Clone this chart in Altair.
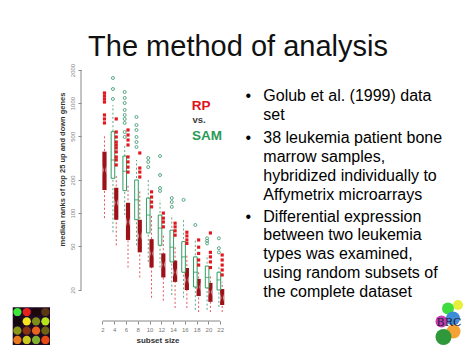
import altair as alt
import pandas as pd

# ---------------- data ----------------
rp_sizes = [2, 4, 6, 8, 10, 12, 14, 16, 18, 20, 22]
rp_low = [90, 51, 32, 26, 17, 16, 13.7, 13.7, 12.6, 12.6, 12.6]
rp_q1 = [162, 87, 57, 44, 32, 26, 23.7, 20, 17.6, 15.6, 14.6]
rp_med = [247, 124, 83, 62, 43, 34, 29, 24.7, 21.3, 19.2, 17]
rp_q3 = [362, 170, 124, 87, 58, 43, 37, 31.7, 25.2, 23.2, 20.4]
rp_high = [513, 222, 180, 162, 96, 63, 51, 41.6, 30.4, 27.4, 23.7]
rp_outliers = {
    2: [1236, 1161, 1090, 1023, 780, 718, 660],
    4: [718, 546, 492, 443, 416, 391, 360, 324, 304, 274],
    6: [570, 513, 462, 416, 324, 292, 262, 236],
    8: [352, 257, 236, 213],
    10: [156, 140, 126, 114],
    12: [100, 90, 83, 75],
    14: [81, 75, 69, 63],
    16: [67, 62, 57, 53],
    18: [57, 49, 43, 37.5, 33.7],
    20: [66, 44, 40, 36, 32],
    22: [41.6, 37.5, 33.7, 30.4, 27.4],
}

sam_sizes = [4, 6, 8, 10, 12, 14, 16, 18, 20, 22]
sam_low = [67, 96, 51, 36, 32, 18, 17, 13.2, 13.2, 14]
sam_q1 = [207, 160, 87, 66, 51, 36, 29, 21.3, 20.9, 20]
sam_med = [304, 240, 132, 96, 73, 49, 40, 29, 26, 24.7]
sam_q3 = [550, 330, 200, 137, 96, 70, 55, 40, 33, 29]
sam_high = [961, 416, 304, 200, 132, 96, 90, 57, 41.6, 33.7]
sam_outliers = {
    4: [1692, 1343, 1090],
    6: [1262, 1113, 1002, 866, 780, 718, 660, 546, 492],
    8: [748, 632, 570, 492, 443, 399],
    10: [317, 292, 262],
    12: [330, 222, 169, 159],
    14: [137, 126, 114],
    16: [132],
    18: [78],
    20: [59, 56, 53],
    22: [59, 48, 44],
}

x_ticks = [2, 4, 6, 8, 10, 12, 14, 16, 18, 20, 22]
y_ticks = [20, 50, 100, 200, 500, 1000, 2000]

title_text = "The method of analysis"
bullets = [
    ["Golub et al. (1999) data", "set"],
    ["38 leukemia patient bone", "marrow samples,", "hybridized individually to",
     "Affymetrix microarrays"],
    ["Differential expression", "between two leukemia", "types was examined,",
     "using random subsets of", "the complete dataset"],
]
grid_logo_colors = [
    ["#3fe63a", "#e6201c", "#1c0808", "#5a3814"],
    ["#140810", "#f2e41e", "#7e8c1a", "#b6e21e"],
    ["#8a9816", "#883212", "#e8641e", "#6c6214"],
    ["#e8781e", "#c8ca1e", "#80ae30", "#e84a14"],
]

# ---------------- tables ----------------
rp_df = pd.DataFrame({"size": rp_sizes, "low": rp_low, "q1": rp_q1,
                      "med": rp_med, "q3": rp_q3, "high": rp_high})
sam_df = pd.DataFrame({"size": sam_sizes, "low": sam_low, "q1": sam_q1,
                       "med": sam_med, "q3": sam_q3, "high": sam_high})
rp_out = pd.DataFrame([{"size": s, "v": v} for s, vs in rp_outliers.items() for v in vs])
sam_out = pd.DataFrame([{"size": s, "v": v} for s, vs in sam_outliers.items() for v in vs])
one = pd.DataFrame({"k": [0]})

# ---------------- layout / style ----------------
L, T, W, H = 81, 70, 153, 251
FONT = "Liberation Sans"
DARKRED = "#9c1218"
RED = "#e3171f"
RED_W = "#e2555a"
GREEN = "#2f9e62"
GREEN_O = "#4a9f78"
GREEN_W = "#5aab84"
RP_OFF = 2.0
SAM_OFF = -1.3

xs = alt.Scale(domain=[-0.8, 23.5], nice=False, zero=False)
ys = alt.Scale(type="log", domain=[10.45, 2000], nice=False)

x_axis = alt.Axis(values=x_ticks, title="subset size", domain=False, grid=False,
                  tickSize=3, tickColor="#888", labelFontSize=6, labelColor="#777",
                  labelFont=FONT, labelPadding=2, titleFont=FONT, titleFontSize=8,
                  titleFontWeight="bold", titleColor="#333", titleY=19,
                  titleBaseline="middle", labelFlush=False, format="d")
y_axis = alt.Axis(values=y_ticks, title="median ranks of top 25 up and down genes",
                  domain=False, grid=False, tickSize=3, tickColor="#888",
                  labelFontSize=6, labelColor="#888", labelFont=FONT, labelAngle=270,
                  labelAlign="center", labelBaseline="bottom", labelPadding=3,
                  titleFont=FONT, titleFontSize=7.5, titleFontWeight="bold",
                  titleColor="#333", titleX=-18.7, titleY=99, titleBaseline="middle",
                  titleAlign="center", labelFlush=False, format="d")


def X(field):
    return alt.X(field, scale=xs, axis=x_axis, title="subset size")


def Y(field):
    return alt.Y(field, scale=ys, axis=y_axis,
                 title="median ranks of top 25 up and down genes")


# axis lines drawn in R style (spanning the tick range only)
y_line = alt.Chart(one).mark_rule(color="#888", strokeWidth=1).encode(
    x=alt.value(0), y=alt.Y(datum=20, scale=ys, axis=y_axis,
                            title="median ranks of top 25 up and down genes"),
    y2=alt.Y2(datum=2000))
x_line = alt.Chart(one).mark_rule(color="#888", strokeWidth=1).encode(
    y=alt.value(H), x=alt.X(datum=2, scale=xs, axis=x_axis, title="subset size"),
    x2=alt.X2(datum=22))

rp_whisk = alt.Chart(rp_df).mark_rule(color=RED_W, strokeWidth=1, strokeDash=[2, 2.2],
                                      xOffset=RP_OFF).encode(
    x=X("size:Q"), y=Y("low:Q"), y2="high:Q")
rp_box = alt.Chart(rp_df).mark_rule(color=DARKRED, strokeWidth=4.2, xOffset=RP_OFF).encode(
    x=X("size:Q"), y=Y("q1:Q"), y2="q3:Q")
rp_notch = alt.Chart(rp_df).mark_point(
    shape="M-1,-2.2L-0.3,0L-1,2.2Z M1,-2.2L0.3,0L1,2.2Z", size=16, filled=True,
    color="#ffffff", opacity=0.55, xOffset=RP_OFF).encode(x=X("size:Q"), y=Y("med:Q"))
rp_pts = alt.Chart(rp_out).mark_square(color=RED, size=10, opacity=1, xOffset=RP_OFF).encode(
    x=X("size:Q"), y=Y("v:Q"))

sam_whisk = alt.Chart(sam_df).mark_rule(color=GREEN_W, strokeWidth=1, strokeDash=[2, 2.2],
                                        xOffset=SAM_OFF).encode(
    x=X("size:Q"), y=Y("low:Q"), y2="high:Q")
sam_box = alt.Chart(sam_df).mark_bar(width=3.6, fill="#ffffff", stroke=GREEN, strokeWidth=1,
                                     xOffset=SAM_OFF).encode(
    x=X("size:Q"), y=Y("q1:Q"), y2="q3:Q")
sam_medl = alt.Chart(sam_df).mark_point(shape="stroke", size=16, strokeWidth=1.2, color=GREEN,
                                        xOffset=SAM_OFF).encode(x=X("size:Q"), y=Y("med:Q"))
sam_pts = alt.Chart(sam_out).mark_point(shape="circle", filled=False, size=9, strokeWidth=0.9,
                                        color=GREEN_O, opacity=1, xOffset=SAM_OFF).encode(
    x=X("size:Q"), y=Y("v:Q"))


def txt(text, x, y, size, color="#000", weight="normal", align="left", lh=None, font=FONT):
    kw = dict(font=font, fontSize=size, color=color, fontWeight=weight, align=align,
              baseline="alphabetic")
    if lh is not None:
        kw["lineHeight"] = lh
    return alt.Chart(one).mark_text(**kw).encode(
        x=alt.value(x - L), y=alt.value(y - T), text=alt.value(text))


texts = [
    txt(title_text, 238, 56, 29, color="#111", align="center"),
    txt("RP", 191.7, 110, 13.5, color="#e0121b", weight="bold"),
    txt("vs.", 192.5, 123, 9.5, color="#3a3a3a", weight="bold"),
    txt("SAM", 192, 140, 13.5, color="#2a9a58", weight="bold"),
]
bullet_base = [101.2, 143.4, 221.7]
for lines, yb in zip(bullets, bullet_base):
    texts.append(txt("•", 248.3, yb, 16, align="center"))
    texts.append(txt(lines, 263.3, yb, 16, lh=18.8))

# decorative logos
logos = [alt.Chart(one).mark_rect(color="#1e0a22").encode(
    x=alt.value(12.7 - L), x2=alt.value(50 - L), y=alt.value(307.3 - T), y2=alt.value(345 - T))]
for r, row in enumerate(grid_logo_colors):
    for c, col in enumerate(row):
        logos.append(alt.Chart(one).mark_circle(color=col, size=68, opacity=1).encode(
            x=alt.value(17.4 + 9.33 * c - L), y=alt.value(312 + 9.33 * r - T)))
brc = [("#e6ef3c", 458, 305, 5), ("#3edc3e", 448, 308.5, 6), ("#3c8cd8", 453, 318.5, 7),
       ("#f5a234", 453.5, 331.5, 7), ("#c23cb2", 441.5, 321.5, 6), ("#2e983a", 443.5, 337, 8)]
for col, cx, cy, rr in brc:
    logos.append(alt.Chart(one).mark_circle(color=col, size=(2 * rr) ** 2, opacity=1).encode(
        x=alt.value(cx - L), y=alt.value(cy - T)))
logos.append(txt("BRC", 449, 325.5, 11, color="#2a1a36", align="center", font="DejaVu Serif"))

chart = alt.layer(
    rp_whisk, sam_whisk, y_line, x_line, rp_box, rp_notch, sam_box, sam_medl,
    sam_pts, rp_pts, *texts, *logos
).properties(
    width=W, height=H,
    autosize=alt.AutoSizeParams(type="none"),
    padding={"left": L, "top": T, "right": 474 - L - W, "bottom": 355 - T - H},
    background="#ffffff",
).configure_view(stroke=None)

chart.save("out.html", embed_options={"renderer": "svg", "actions": False})
